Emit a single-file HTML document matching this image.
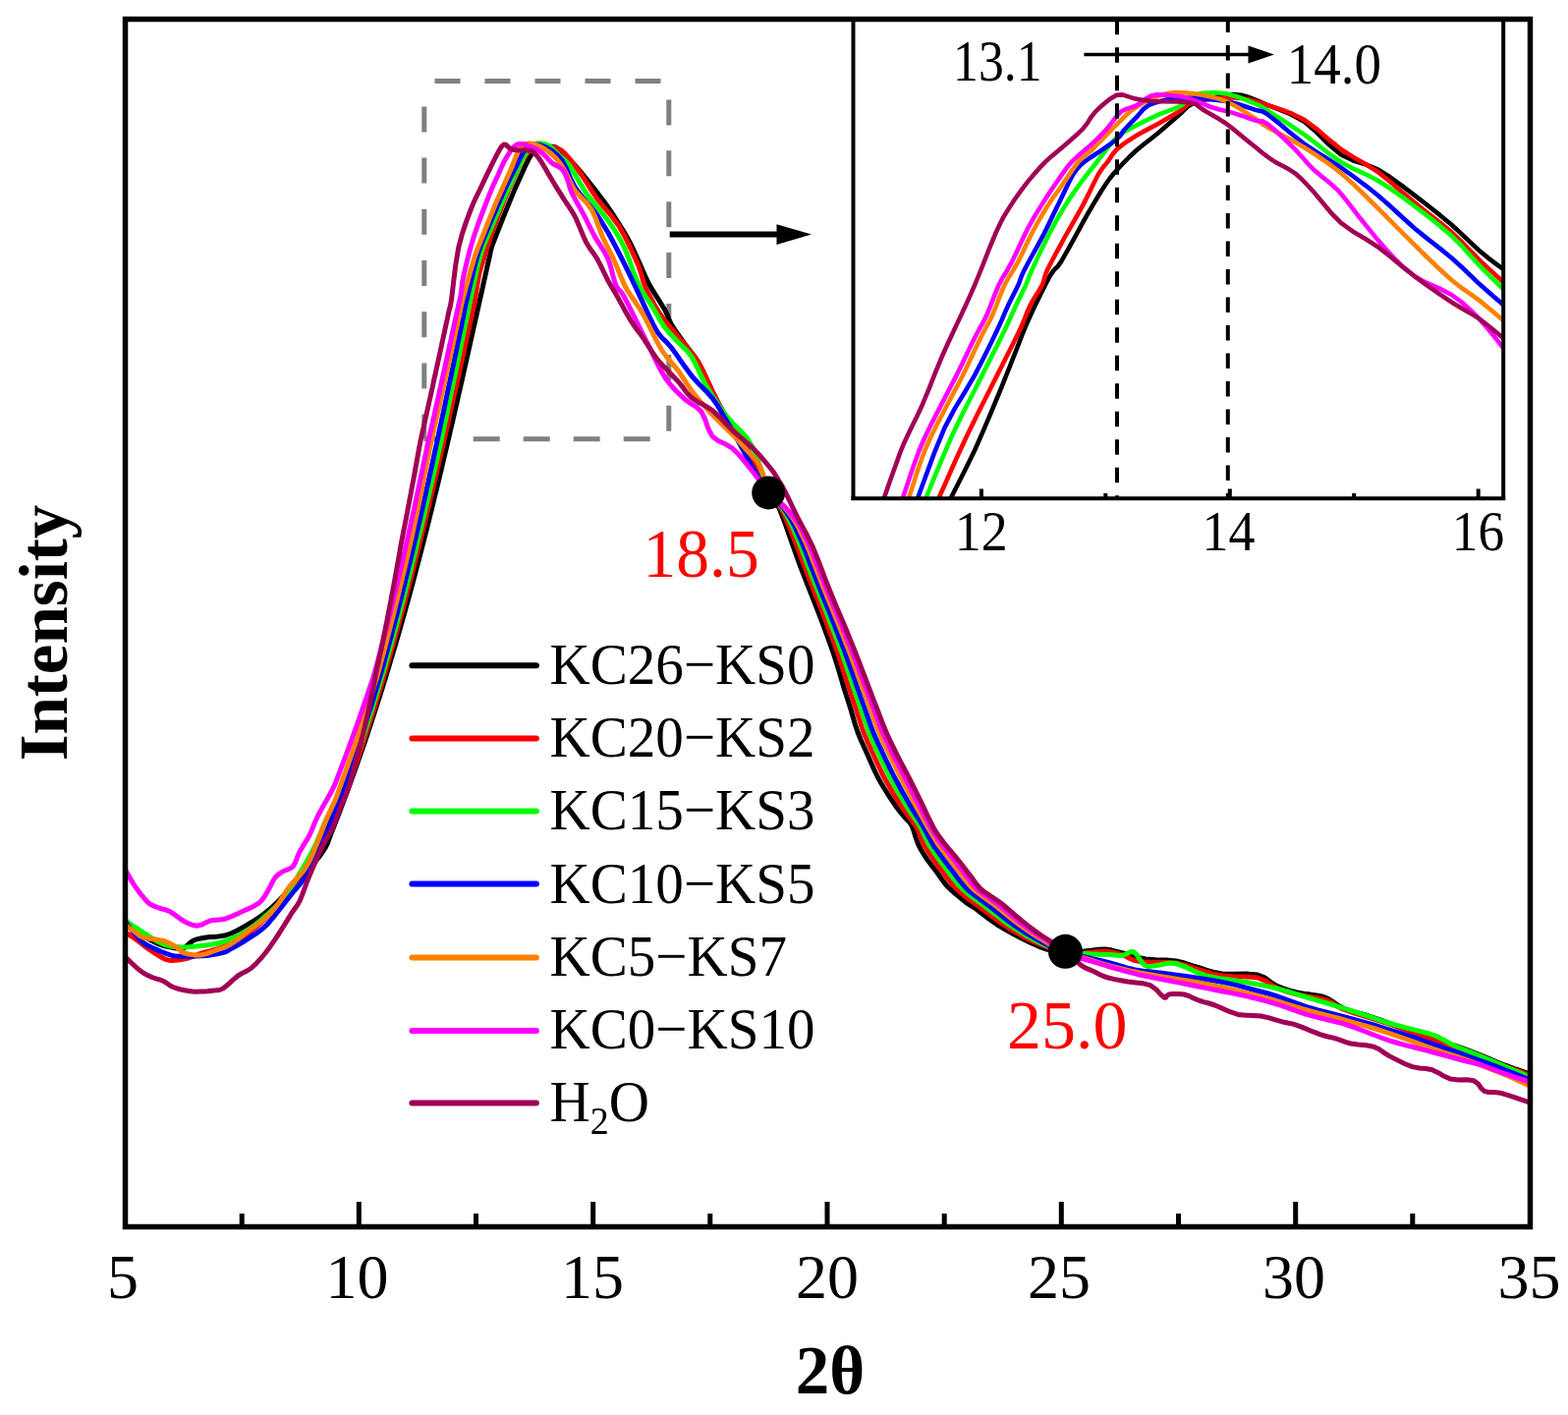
<!DOCTYPE html>
<html><head><meta charset="utf-8"><title>XRD</title>
<style>
html,body{margin:0;padding:0;background:#fff;}
svg{display:block;}
text{font-family:"Liberation Serif","Times New Roman",serif;}
</style></head><body>
<svg width="1596" height="1440" viewBox="0 0 1596 1440">
<rect width="1596" height="1440" fill="#fff"/>
<!-- dashed rect -->
<g stroke="#808080" stroke-width="5" fill="none">
<line x1="431.5" y1="82.6" x2="680.8" y2="82.6" stroke-dasharray="26 25" stroke-dashoffset="40"/>
<line x1="680.8" y1="82.6" x2="680.8" y2="446.8" stroke-dasharray="26 25.9" stroke-dashoffset="33.1"/>
<line x1="680.8" y1="446.8" x2="431.5" y2="446.8" stroke-dasharray="27 24" stroke-dashoffset="31.9"/>
<line x1="431.8" y1="446.8" x2="431.8" y2="82.6" stroke-dasharray="26 26.2" stroke-dashoffset="0.8"/>
</g>
<g fill="none" stroke-width="5" stroke-linejoin="round" stroke-linecap="round">
<path d="M127.5,940.0L129.8,941.4L133.2,943.6L137.0,946.0L141.0,948.9L145.4,952.0L150.0,955.0L154.9,957.6L159.9,960.0L165.0,962.0L170.3,963.4L175.6,964.4L180.0,965.0L182.8,965.5L184.7,965.7L187.0,965.0L190.0,962.7L193.3,959.6L197.0,957.0L201.1,955.6L205.6,954.7L210.0,954.0L214.0,953.6L218.0,953.4L222.0,953.0L225.9,952.5L230.0,951.7L235.0,950.0L241.8,946.7L249.6,942.4L257.0,938.0L263.4,933.8L269.4,929.5L275.0,925.0L280.2,920.2L285.1,915.2L290.0,910.0L295.0,904.4L300.0,898.6L305.0,893.0L310.1,887.9L315.3,883.0L320.0,878.0L324.4,872.5L328.4,866.9L331.6,862.0L333.5,858.2L334.5,855.1L335.6,852.0L336.9,848.7L338.2,845.3L339.5,842.0L340.8,838.7L342.1,835.3L343.4,832.0L344.7,828.7L346.0,825.3L347.2,822.0L348.5,818.7L349.7,815.3L351.0,812.0L352.2,808.7L353.5,805.3L354.7,802.0L355.9,798.7L357.1,795.3L358.3,792.0L359.5,788.7L360.7,785.3L361.9,782.0L363.1,778.7L364.2,775.3L365.4,772.0L366.6,768.7L367.7,765.3L368.9,762.0L370.0,758.7L371.2,755.3L372.3,752.0L373.4,748.7L374.5,745.3L375.6,742.0L376.8,738.7L377.9,735.3L378.9,732.0L380.0,728.7L381.1,725.3L382.2,722.0L383.3,718.7L384.3,715.3L385.4,712.0L386.5,708.7L387.5,705.3L388.6,702.0L389.6,698.7L390.6,695.3L391.7,692.0L392.7,688.7L393.7,685.3L394.7,682.0L395.7,678.7L396.7,675.3L397.7,672.0L398.7,668.7L399.7,665.3L400.7,662.0L401.7,658.7L402.7,655.3L403.6,652.0L404.6,648.7L405.6,645.3L406.5,642.0L407.5,638.7L408.4,635.3L409.4,632.0L410.3,628.7L411.3,625.3L412.2,622.0L413.1,618.7L414.0,615.3L415.0,612.0L415.9,608.7L416.8,605.3L417.7,602.0L418.6,598.7L419.5,595.3L420.4,592.0L421.3,588.7L422.2,585.3L423.1,582.0L423.9,578.7L424.8,575.3L425.7,572.0L426.6,568.7L427.4,565.3L428.3,562.0L429.2,558.7L430.0,555.3L430.9,552.0L431.7,548.7L432.6,545.3L433.4,542.0L434.3,538.7L435.1,535.3L435.9,532.0L436.8,528.7L437.6,525.3L438.4,522.0L439.3,518.7L440.1,515.3L440.9,512.0L441.7,508.7L442.5,505.3L443.3,502.0L444.2,498.7L445.0,495.3L445.8,492.0L446.6,488.7L447.4,485.3L448.2,482.0L449.0,478.7L449.8,475.3L450.5,472.0L451.3,468.7L452.1,465.3L452.9,462.0L453.7,458.7L454.5,455.3L455.2,452.0L456.0,448.7L456.8,445.3L457.6,442.0L458.3,438.7L459.1,435.3L459.9,432.0L460.7,428.7L461.4,425.3L462.2,422.0L462.9,418.7L463.7,415.3L464.5,412.0L465.2,408.7L466.0,405.3L466.7,402.0L467.5,398.7L468.3,395.3L469.0,392.0L469.8,388.7L470.5,385.3L471.3,382.0L472.0,378.7L472.8,375.3L473.5,372.0L474.3,368.7L475.0,365.3L475.7,362.0L476.5,358.7L477.2,355.3L478.0,352.0L478.7,348.7L479.5,345.3L480.2,342.0L481.0,338.7L481.7,335.3L482.4,332.0L483.2,328.7L483.9,325.3L484.7,322.0L485.4,318.7L486.2,315.3L486.9,312.0L487.6,308.7L488.4,305.3L489.1,302.0L489.9,298.7L490.6,295.3L491.4,292.0L492.1,288.7L492.8,285.3L493.6,282.0L494.3,278.7L495.1,275.3L495.8,272.0L496.6,268.7L497.3,265.3L498.1,262.0L498.8,258.7L499.4,255.4L500.3,252.0L501.1,249.4L502.1,246.8L504.4,241.0L508.9,229.6L514.7,215.0L520.0,202.0L524.0,192.4L527.6,184.4L531.0,177.0L534.4,169.5L537.8,162.6L541.0,157.0L544.0,153.1L547.0,150.6L550.0,149.0L553.3,148.3L556.7,148.5L560.0,149.0L562.8,149.3L565.5,149.9L569.0,152.0L573.9,156.3L579.5,162.0L585.0,168.0L590.0,173.7L594.9,179.6L600.0,186.0L605.6,193.1L611.3,200.5L616.7,207.8L621.5,214.6L625.9,221.3L630.0,227.8L633.9,234.1L637.6,240.3L641.1,246.7L644.5,253.6L647.7,260.8L651.0,268.0L654.2,275.2L657.3,282.4L661.1,290.0L666.1,298.4L671.7,307.1L676.4,314.7L679.1,320.3L680.8,324.9L683.3,330.0L687.4,336.4L692.2,343.2L697.0,350.0L701.6,356.0L706.3,362.0L711.0,369.0L715.8,378.2L720.6,388.6L725.0,398.0L728.8,405.6L732.2,412.3L736.0,419.0L740.4,425.9L745.1,432.7L750.0,440.0L754.9,447.7L759.8,455.8L765.0,465.0L770.7,476.6L776.7,489.2L782.0,500.0L785.9,505.9L789.3,510.0L793.5,518.0L799.5,533.6L806.3,553.3L813.0,572.0L819.1,587.9L825.1,603.0L831.0,618.0L837.0,633.7L842.8,649.4L848.0,664.0L852.3,677.3L855.9,689.4L859.0,700.0L861.6,708.3L863.8,715.1L866.0,722.0L868.2,729.6L870.4,737.3L873.0,745.0L876.1,752.7L879.6,760.4L883.0,768.0L886.3,775.6L889.7,783.1L893.0,790.0L896.3,796.1L899.7,801.7L903.0,807.0L906.4,812.3L909.8,817.4L913.0,822.0L915.9,825.8L918.5,829.0L921.0,832.0L923.4,834.4L925.7,836.6L928.0,840.0L930.1,845.6L932.1,852.5L934.5,859.0L937.4,864.7L940.7,870.0L944.0,875.0L947.2,879.4L950.4,883.5L953.5,887.5L956.5,891.8L959.5,896.1L962.5,900.0L965.5,903.2L968.6,906.1L972.0,909.0L975.9,912.4L980.1,915.9L984.0,919.0L986.9,920.9L989.5,922.4L993.5,925.0L999.6,929.7L1007.1,935.4L1015.0,941.0L1023.1,945.9L1031.5,950.6L1040.0,955.0L1048.6,959.2L1057.1,963.1L1065.0,966.0L1071.8,967.4L1077.9,967.8L1084.0,968.0L1090.4,968.2L1096.8,968.2L1103.5,968.0L1110.6,967.3L1118.0,966.3L1125.0,966.0L1131.1,966.8L1136.8,968.3L1143.0,970.0L1150.0,972.0L1157.6,974.2L1166.0,976.0L1176.0,976.8L1186.9,977.1L1197.0,978.0L1205.6,980.0L1213.3,982.6L1221.0,985.0L1228.3,987.3L1235.4,989.4L1244.0,991.0L1255.7,991.3L1268.8,991.1L1280.0,992.0L1287.5,995.1L1293.1,999.3L1299.0,1003.0L1305.9,1005.8L1313.0,1008.1L1320.0,1010.0L1327.1,1011.3L1334.0,1012.1L1340.0,1013.0L1344.1,1013.7L1347.3,1014.5L1351.0,1016.0L1355.7,1018.9L1361.0,1022.6L1367.0,1026.0L1374.2,1028.6L1382.2,1030.8L1390.0,1033.0L1397.1,1035.3L1404.1,1037.6L1411.0,1040.0L1418.0,1042.6L1425.0,1045.3L1432.0,1048.0L1438.9,1050.7L1445.8,1053.4L1453.0,1056.0L1460.8,1058.4L1469.0,1060.6L1477.0,1063.0L1484.7,1065.5L1492.3,1068.1L1500.0,1071.0L1508.2,1074.3L1516.6,1077.9L1524.0,1081.0L1529.9,1083.3L1534.9,1085.1L1540.0,1087.0L1546.2,1089.2L1552.6,1091.4L1557.0,1093.0" stroke="#000000"/>
<path d="M127.5,949.0L129.8,950.4L133.2,952.5L137.0,955.0L141.1,958.1L145.5,961.6L150.0,965.0L154.4,968.0L158.8,970.9L162.9,973.3L166.3,975.2L169.4,976.6L173.3,977.4L178.6,977.3L184.7,976.5L190.5,975.3L195.5,973.7L200.2,971.8L205.0,970.0L209.8,968.7L214.6,967.6L220.0,966.0L226.3,963.9L233.1,961.3L240.0,958.0L246.7,954.0L253.3,949.3L260.0,944.0L266.7,938.3L273.3,932.0L280.0,925.0L286.8,917.1L293.5,908.6L300.0,900.0L306.4,891.4L312.4,882.7L317.5,875.0L320.8,869.2L323.1,864.4L325.8,858.3L329.6,849.2L333.9,838.9L338.0,830.0L342.0,823.8L345.8,819.1L348.9,815.0L350.6,811.3L351.6,808.1L352.6,805.0L353.8,801.7L355.0,798.3L356.2,795.0L357.4,791.7L358.6,788.3L359.8,785.0L360.9,781.7L362.1,778.3L363.2,775.0L364.4,771.7L365.5,768.3L366.6,765.0L367.7,761.7L368.8,758.3L369.9,755.0L371.0,751.7L372.1,748.3L373.2,745.0L374.3,741.7L375.4,738.3L376.4,735.0L377.5,731.7L378.6,728.3L379.6,725.0L380.7,721.7L381.7,718.3L382.7,715.0L383.8,711.7L384.8,708.3L385.8,705.0L386.8,701.7L387.8,698.3L388.8,695.0L389.8,691.7L390.8,688.3L391.8,685.0L392.8,681.7L393.8,678.3L394.7,675.0L395.7,671.7L396.6,668.3L397.6,665.0L398.5,661.7L399.5,658.3L400.4,655.0L401.4,651.7L402.3,648.3L403.2,645.0L404.1,641.7L405.1,638.3L406.0,635.0L406.9,631.7L407.8,628.3L408.7,625.0L409.6,621.7L410.5,618.3L411.4,615.0L412.2,611.7L413.1,608.3L414.0,605.0L414.9,601.7L415.7,598.3L416.6,595.0L417.4,591.7L418.3,588.3L419.2,585.0L420.0,581.7L420.8,578.3L421.7,575.0L422.5,571.7L423.4,568.3L424.2,565.0L425.0,561.7L425.8,558.3L426.7,555.0L427.5,551.7L428.3,548.3L429.1,545.0L430.0,541.7L430.8,538.3L431.6,535.0L432.4,531.7L433.2,528.3L434.0,525.0L434.8,521.7L435.6,518.3L436.4,515.0L437.2,511.7L438.0,508.3L438.8,505.0L439.6,501.7L440.4,498.3L441.2,495.0L441.9,491.7L442.7,488.3L443.5,485.0L444.3,481.7L445.0,478.3L445.8,475.0L446.6,471.7L447.3,468.3L448.1,465.0L448.9,461.7L449.6,458.3L450.4,455.0L451.1,451.7L451.9,448.3L452.7,445.0L453.4,441.7L454.2,438.3L454.9,435.0L455.7,431.7L456.4,428.3L457.2,425.0L457.9,421.7L458.7,418.3L459.4,415.0L460.2,411.7L460.9,408.3L461.6,405.0L462.4,401.7L463.1,398.3L463.9,395.0L464.6,391.7L465.3,388.3L466.1,385.0L466.8,381.7L467.5,378.3L468.3,375.0L469.0,371.7L469.7,368.3L470.5,365.0L471.2,361.7L471.9,358.3L472.6,355.0L473.4,351.7L474.1,348.3L474.8,345.0L475.5,341.7L476.3,338.3L477.0,335.0L477.7,331.7L478.5,328.3L479.2,325.0L479.9,321.7L480.6,318.3L481.4,315.0L482.0,312.2L482.7,309.4L483.5,305.0L484.6,297.6L486.0,288.5L487.5,280.0L489.3,272.9L491.4,266.4L493.5,260.0L495.2,254.3L496.9,248.8L499.5,241.0L503.8,229.0L509.1,214.7L514.0,202.0L518.0,192.4L521.5,184.4L525.0,177.0L528.4,169.8L531.7,163.3L535.0,158.0L538.3,154.3L541.6,151.7L545.0,150.0L548.6,149.0L552.4,148.9L556.0,149.0L559.5,149.3L562.8,150.0L566.0,151.0L568.6,151.7L571.0,152.7L574.4,155.6L579.4,161.2L585.2,168.7L591.1,176.7L596.5,184.8L601.8,193.4L607.8,202.2L615.0,211.1L622.8,220.2L630.0,230.0L636.4,241.3L642.1,253.2L646.7,263.3L649.7,270.3L651.5,275.5L653.0,280.0L654.0,283.5L654.6,286.2L656.0,290.0L658.8,296.1L662.4,303.3L666.0,310.0L669.2,315.4L672.4,320.3L676.4,325.8L681.8,332.4L687.9,339.7L694.0,347.0L699.8,354.0L705.6,361.0L711.0,368.9L716.0,378.4L720.7,388.6L725.0,398.0L728.8,405.5L732.2,412.1L736.0,418.9L740.4,426.0L745.1,433.2L750.0,441.0L755.2,449.5L760.6,458.4L766.0,468.0L771.7,479.1L777.4,490.9L782.0,500.0L784.9,504.7L786.8,506.9L788.7,509.0L791.0,512.0L793.2,515.0L795.2,518.0L796.8,521.0L798.2,524.0L799.5,527.0L800.8,530.0L802.1,533.0L803.3,536.0L804.5,539.0L805.7,542.0L806.9,545.0L808.0,548.0L809.2,551.0L810.4,554.0L811.5,557.0L812.6,560.0L813.7,563.0L814.8,566.0L815.9,569.0L817.1,572.0L818.2,575.0L819.4,578.0L820.6,581.0L821.7,584.0L822.9,587.0L824.1,590.0L825.3,593.0L826.4,596.0L827.6,599.0L828.8,602.0L830.0,605.0L831.2,608.0L832.4,611.0L833.6,614.0L834.8,617.0L835.9,620.0L837.0,623.0L838.2,626.0L839.3,629.0L840.5,632.0L841.6,635.0L842.7,638.0L843.9,641.0L845.0,644.0L846.1,647.0L847.3,650.0L848.4,653.0L849.5,656.0L850.7,659.0L851.8,662.0L852.8,665.0L853.8,668.0L854.8,671.0L855.8,674.0L856.7,677.0L857.7,680.0L858.6,683.0L859.6,686.0L860.6,689.0L861.5,692.0L862.5,695.0L863.5,698.0L864.4,701.0L865.4,704.0L866.4,707.0L867.4,710.0L868.4,713.0L869.4,716.0L870.4,719.0L871.4,722.0L872.4,725.0L873.3,728.0L874.3,731.0L875.3,734.0L876.2,737.0L877.1,740.0L878.2,743.0L879.3,746.0L880.6,749.0L881.9,752.0L883.2,755.0L884.6,758.0L885.9,761.0L887.2,764.0L888.6,767.0L889.9,770.0L891.3,773.0L892.7,776.0L894.1,779.0L895.5,782.0L896.9,785.0L898.3,788.0L899.9,791.0L901.6,794.0L903.3,797.0L905.0,800.0L906.7,803.0L908.4,806.0L910.3,809.0L912.1,812.0L914.1,815.0L916.0,818.0L917.9,821.0L919.9,824.0L922.1,827.0L924.4,830.0L926.6,833.0L928.9,836.0L931.1,839.0L932.9,842.0L934.4,845.0L935.5,848.0L936.6,851.0L937.9,854.0L939.1,857.0L940.6,860.0L942.4,863.0L944.4,866.0L946.4,869.0L948.4,872.0L950.4,875.0L952.5,878.0L954.8,881.0L957.1,884.0L959.4,887.0L961.5,890.0L963.7,893.0L966.0,896.0L968.4,899.0L971.1,902.0L974.0,905.0L977.3,908.0L980.9,911.0L984.7,914.0L988.7,917.0L992.8,920.0L997.0,923.0L1001.0,926.0L1005.1,929.0L1009.1,932.0L1013.0,935.0L1016.9,938.0L1021.1,941.0L1025.8,944.0L1031.0,947.0L1036.3,950.0L1041.4,953.0L1046.7,955.9L1053.5,959.0L1063.1,962.6L1074.2,966.3L1084.0,969.0L1091.2,970.1L1097.3,970.2L1103.5,970.0L1110.6,969.3L1118.0,968.3L1125.0,968.0L1131.5,968.9L1137.7,970.4L1143.0,972.0L1147.0,973.7L1150.2,975.5L1153.6,977.0L1156.9,977.9L1160.4,978.5L1166.0,979.0L1175.2,979.2L1186.5,979.3L1197.0,980.0L1205.6,981.9L1213.3,984.5L1221.0,987.0L1228.3,989.2L1235.4,991.3L1244.0,993.0L1255.7,993.7L1268.8,993.9L1280.0,995.0L1287.5,997.9L1293.1,1001.6L1299.0,1005.0L1305.5,1007.6L1312.2,1009.9L1320.0,1012.0L1330.1,1014.0L1341.4,1015.8L1351.0,1018.0L1356.4,1020.6L1360.1,1023.5L1367.0,1027.0L1379.7,1031.3L1395.4,1036.1L1411.0,1041.0L1425.0,1045.9L1438.7,1050.9L1453.0,1056.0L1469.1,1061.5L1485.9,1067.1L1500.0,1072.0L1509.4,1075.7L1516.2,1078.7L1524.0,1082.0L1535.6,1086.3L1548.1,1090.8L1557.0,1094.0" stroke="#ff0000"/>
<path d="M127.5,936.0L129.0,937.3L131.2,939.2L133.3,940.9L135.0,942.0L136.6,943.0L138.8,944.3L141.6,946.2L145.0,948.6L149.1,951.2L154.3,954.5L160.3,958.1L166.4,961.0L172.3,962.7L178.4,963.6L185.0,964.0L192.4,963.8L200.2,963.1L207.8,962.2L214.8,961.2L221.5,960.0L228.4,958.1L235.5,955.4L242.8,952.1L250.0,948.0L257.4,942.9L264.7,937.1L271.7,931.0L278.0,925.2L284.0,919.2L290.0,912.0L296.5,902.6L303.1,892.0L309.0,882.0L313.8,873.7L318.0,866.1L322.0,858.0L326.0,848.6L329.9,838.7L334.0,830.0L338.9,823.0L344.0,817.0L348.0,812.0L350.0,808.1L350.8,805.0L351.7,802.0L352.9,798.7L354.1,795.3L355.3,792.0L356.5,788.7L357.7,785.3L358.8,782.0L360.0,778.7L361.1,775.3L362.2,772.0L363.4,768.7L364.5,765.3L365.6,762.0L366.7,758.7L367.8,755.3L368.9,752.0L370.0,748.7L371.1,745.3L372.2,742.0L373.3,738.7L374.3,735.3L375.4,732.0L376.4,728.7L377.5,725.3L378.5,722.0L379.6,718.7L380.6,715.3L381.7,712.0L382.7,708.7L383.7,705.3L384.7,702.0L385.7,698.7L386.7,695.3L387.7,692.0L388.7,688.7L389.7,685.3L390.7,682.0L391.6,678.7L392.6,675.3L393.5,672.0L394.5,668.7L395.4,665.3L396.4,662.0L397.3,658.7L398.2,655.3L399.1,652.0L400.1,648.7L401.0,645.3L401.9,642.0L402.8,638.7L403.7,635.3L404.6,632.0L405.5,628.7L406.4,625.3L407.2,622.0L408.1,618.7L409.0,615.3L409.9,612.0L410.7,608.7L411.6,605.3L412.5,602.0L413.3,598.7L414.2,595.3L415.0,592.0L415.9,588.7L416.7,585.3L417.5,582.0L418.4,578.7L419.2,575.3L420.0,572.0L420.8,568.7L421.7,565.3L422.5,562.0L423.3,558.7L424.1,555.3L424.9,552.0L425.7,548.7L426.5,545.3L427.3,542.0L428.2,538.7L429.0,535.3L429.8,532.0L430.6,528.7L431.4,525.3L432.2,522.0L432.9,518.7L433.7,515.3L434.5,512.0L435.3,508.7L436.1,505.3L436.9,502.0L437.6,498.7L438.4,495.3L439.2,492.0L440.0,488.7L440.7,485.3L441.5,482.0L442.2,478.7L443.0,475.3L443.8,472.0L444.5,468.7L445.3,465.3L446.0,462.0L446.8,458.7L447.5,455.3L448.3,452.0L449.0,448.7L449.7,445.3L450.4,442.0L451.1,438.7L451.8,435.3L452.5,432.0L453.3,428.7L454.0,425.3L454.7,422.0L455.4,418.7L456.1,415.3L456.8,412.0L457.5,408.7L458.1,405.3L458.8,402.0L459.5,398.7L460.2,395.3L460.9,392.0L461.6,388.7L462.3,385.3L463.0,382.0L463.7,378.7L464.4,375.3L465.0,372.0L465.7,368.7L466.4,365.3L467.1,362.0L467.8,358.7L468.5,355.3L469.1,352.0L469.8,348.7L470.5,345.3L471.2,342.0L471.9,338.7L472.6,335.3L473.2,332.0L473.9,328.7L474.6,325.3L475.3,322.0L476.0,318.7L476.6,315.3L477.3,312.0L477.7,309.9L478.1,307.7L479.4,302.0L482.0,289.9L485.4,274.1L489.0,260.0L492.5,249.6L496.2,240.8L500.0,232.0L504.0,222.4L508.1,212.9L512.0,204.0L515.5,196.1L518.8,188.8L522.0,182.0L525.1,175.5L528.2,169.4L531.0,164.0L533.4,159.3L535.7,155.3L538.0,152.0L540.5,149.3L543.0,147.2L546.0,146.0L549.7,145.7L553.8,146.4L557.8,147.8L561.3,150.2L564.5,153.5L568.0,157.0L571.7,160.2L575.6,163.7L580.0,168.9L585.0,177.0L590.6,186.9L596.7,196.7L603.9,205.9L611.7,215.2L618.9,224.4L625.0,233.3L630.4,242.2L635.6,252.2L640.6,264.6L645.3,278.2L650.0,290.0L654.8,298.5L659.5,305.3L664.0,312.0L668.2,319.2L672.2,326.3L676.4,332.8L680.8,338.3L685.4,343.1L690.0,348.0L694.7,352.6L699.5,357.3L704.2,363.3L708.6,371.5L712.9,381.0L718.0,391.0L724.4,401.7L731.6,412.8L738.9,423.0L746.6,431.5L754.4,439.1L761.0,446.7L765.5,454.2L768.8,461.8L772.0,470.0L775.5,480.3L778.9,491.3L782.0,500.0L784.7,504.6L787.2,506.8L789.6,509.0L792.1,512.0L794.6,515.0L796.8,518.0L798.8,521.0L800.5,524.0L802.1,527.0L803.7,530.0L805.1,533.0L806.5,536.0L807.8,539.0L809.0,542.0L810.3,545.0L811.6,548.0L812.9,551.0L814.1,554.0L815.3,557.0L816.4,560.0L817.5,563.0L818.7,566.0L819.8,569.0L820.9,572.0L822.1,575.0L823.2,578.0L824.4,581.0L825.6,584.0L826.8,587.0L827.9,590.0L829.1,593.0L830.3,596.0L831.5,599.0L832.7,602.0L833.9,605.0L835.1,608.0L836.3,611.0L837.5,614.0L838.7,617.0L839.9,620.0L841.0,623.0L842.2,626.0L843.4,629.0L844.5,632.0L845.7,635.0L846.9,638.0L848.0,641.0L849.2,644.0L850.3,647.0L851.5,650.0L852.6,653.0L853.8,656.0L854.9,659.0L856.1,662.0L857.1,665.0L858.2,668.0L859.2,671.0L860.2,674.0L861.2,677.0L862.2,680.0L863.2,683.0L864.2,686.0L865.3,689.0L866.3,692.0L867.3,695.0L868.3,698.0L869.3,701.0L870.3,704.0L871.4,707.0L872.4,710.0L873.4,713.0L874.5,716.0L875.5,719.0L876.5,722.0L877.5,725.0L878.6,728.0L879.6,731.0L880.6,734.0L881.6,737.0L882.6,740.0L883.6,743.0L884.8,746.0L886.1,749.0L887.5,752.0L888.8,755.0L890.2,758.0L891.5,761.0L892.9,764.0L894.3,767.0L895.7,770.0L897.1,773.0L898.5,776.0L900.0,779.0L901.4,782.0L902.8,785.0L904.3,788.0L905.9,791.0L907.5,794.0L909.1,797.0L910.8,800.0L912.4,803.0L914.1,806.0L915.9,809.0L917.7,812.0L919.5,815.0L921.3,818.0L923.1,821.0L925.0,824.0L927.0,827.0L929.1,830.0L931.2,833.0L933.2,836.0L935.2,839.0L937.0,842.0L938.5,845.0L939.9,848.0L941.3,851.0L942.7,854.0L944.2,857.0L945.8,860.0L947.8,863.0L949.9,866.0L952.0,869.0L954.1,872.0L956.2,875.0L958.4,878.0L960.7,881.0L963.0,884.0L965.3,887.0L967.5,890.0L969.7,893.0L972.0,896.0L974.4,899.0L977.0,902.0L979.9,905.0L983.3,908.0L987.1,911.0L991.0,914.0L995.1,917.0L999.2,920.0L1003.3,923.0L1007.2,926.0L1011.2,929.0L1015.1,932.0L1018.9,935.0L1022.7,938.0L1026.8,941.0L1031.4,944.0L1036.2,947.0L1041.3,950.0L1046.3,953.0L1051.4,955.9L1057.7,959.0L1066.0,962.6L1075.4,966.3L1084.0,969.0L1090.7,970.1L1096.7,970.4L1103.5,970.5L1112.4,970.9L1122.0,971.2L1130.0,971.5L1135.1,972.0L1138.6,972.5L1142.0,972.5L1146.0,971.0L1150.0,968.9L1153.6,968.5L1156.7,971.1L1159.5,975.4L1162.0,979.0L1164.0,981.2L1165.6,982.7L1168.0,983.5L1171.4,983.4L1175.4,982.7L1180.0,982.0L1184.9,981.0L1190.4,980.1L1197.5,980.7L1206.6,984.1L1217.3,989.1L1228.8,993.3L1241.5,995.8L1255.2,997.6L1268.0,999.5L1279.3,1001.6L1289.7,1003.6L1300.0,1006.0L1310.5,1008.9L1320.7,1012.1L1330.0,1015.0L1337.4,1017.1L1343.7,1018.9L1351.0,1021.0L1359.7,1023.6L1369.2,1026.6L1380.0,1030.0L1392.7,1034.2L1406.6,1038.8L1420.0,1043.0L1432.8,1046.4L1445.1,1049.4L1455.0,1052.0L1461.3,1054.2L1465.3,1056.1L1469.0,1058.0L1472.2,1059.8L1475.0,1061.6L1480.0,1064.0L1488.0,1067.3L1498.0,1071.2L1510.0,1076.0L1526.1,1082.8L1544.2,1090.5L1557.0,1096.0" stroke="#00ff00"/>
<path d="M127.5,938.0L130.0,941.2L133.5,945.7L137.0,950.0L139.8,953.4L142.5,956.6L145.7,959.5L149.9,962.0L154.7,964.3L159.5,966.4L164.2,968.5L169.0,970.4L173.3,971.9L176.8,972.7L179.8,973.1L183.6,973.3L188.7,973.4L194.4,973.2L200.0,973.0L205.1,972.8L209.9,972.4L214.7,971.9L219.6,971.1L224.4,970.1L228.4,969.1L230.8,968.2L232.4,967.2L235.0,965.7L239.3,963.3L244.5,960.3L250.0,957.0L255.9,953.2L262.1,949.1L267.5,945.0L271.3,941.5L274.4,938.0L278.3,933.3L284.2,926.0L290.8,917.5L296.7,910.0L300.9,905.0L304.2,901.2L307.5,896.7L311.0,890.9L314.5,884.5L318.0,878.0L321.5,871.8L324.9,865.4L328.3,858.3L331.7,849.7L335.0,840.3L338.0,832.0L340.7,825.4L343.2,819.8L345.2,815.0L346.7,811.1L347.7,808.1L348.8,805.0L350.0,801.7L351.1,798.3L352.3,795.0L353.5,791.7L354.6,788.3L355.8,785.0L356.9,781.7L358.1,778.3L359.2,775.0L360.4,771.7L361.5,768.3L362.6,765.0L363.7,761.7L364.8,758.3L365.9,755.0L367.0,751.7L368.1,748.3L369.2,745.0L370.3,741.7L371.4,738.3L372.4,735.0L373.5,731.7L374.6,728.3L375.6,725.0L376.7,721.7L377.7,718.3L378.7,715.0L379.8,711.7L380.8,708.3L381.8,705.0L382.8,701.7L383.8,698.3L384.8,695.0L385.8,691.7L386.8,688.3L387.8,685.0L388.7,681.7L389.7,678.3L390.6,675.0L391.5,671.7L392.4,668.3L393.4,665.0L394.3,661.7L395.2,658.3L396.1,655.0L397.0,651.7L397.9,648.3L398.8,645.0L399.6,641.7L400.5,638.3L401.4,635.0L402.3,631.7L403.1,628.3L404.0,625.0L404.9,621.7L405.7,618.3L406.6,615.0L407.4,611.7L408.3,608.3L409.1,605.0L409.9,601.7L410.8,598.3L411.6,595.0L412.4,591.7L413.2,588.3L414.0,585.0L414.9,581.7L415.7,578.3L416.5,575.0L417.3,571.7L418.1,568.3L418.9,565.0L419.6,561.7L420.4,558.3L421.2,555.0L422.0,551.7L422.8,548.3L423.6,545.0L424.3,541.7L425.1,538.3L425.9,535.0L426.7,531.7L427.4,528.3L428.2,525.0L429.0,521.7L429.7,518.3L430.5,515.0L431.2,511.7L432.0,508.3L432.7,505.0L433.5,501.7L434.2,498.3L434.9,495.0L435.7,491.7L436.4,488.3L437.1,485.0L437.9,481.7L438.6,478.3L439.3,475.0L440.1,471.7L440.8,468.3L441.5,465.0L442.2,461.7L442.9,458.3L443.6,455.0L444.4,451.7L445.1,448.3L445.8,445.0L446.5,441.7L447.2,438.3L447.9,435.0L448.7,431.7L449.4,428.3L450.1,425.0L450.8,421.7L451.5,418.3L452.2,415.0L452.9,411.7L453.6,408.3L454.3,405.0L455.0,401.7L455.7,398.3L456.4,395.0L457.1,391.7L457.8,388.3L458.5,385.0L459.2,381.7L459.9,378.3L460.6,375.0L461.3,371.7L462.0,368.3L462.7,365.0L463.4,361.7L464.1,358.3L464.8,355.0L465.5,351.7L466.1,348.3L466.8,345.0L467.5,341.7L468.2,338.3L468.9,335.0L469.6,331.7L470.3,328.3L471.0,325.0L471.7,321.7L472.3,318.3L473.0,315.0L473.4,313.0L473.8,310.9L475.1,305.0L478.1,291.9L482.1,274.9L486.0,260.0L489.4,249.9L492.6,242.0L496.0,234.0L499.6,225.2L503.4,216.4L507.0,208.0L510.4,200.3L513.7,193.0L517.0,186.0L520.4,178.9L523.9,172.1L527.0,166.0L529.5,160.9L531.7,156.6L534.0,153.0L536.4,150.1L538.9,148.1L542.0,147.0L546.1,147.0L550.9,147.9L556.0,150.0L561.3,153.1L566.9,157.4L572.2,163.3L576.5,171.5L580.6,181.3L585.6,191.1L592.6,200.4L600.5,209.6L607.8,218.9L613.7,228.0L619.1,237.0L624.4,246.7L630.0,257.5L635.7,268.9L641.1,280.0L646.1,290.5L650.9,300.7L655.6,310.6L660.2,320.5L664.8,330.1L669.4,338.3L673.8,343.8L678.1,347.9L683.3,353.6L689.8,362.6L697.0,373.1L704.2,382.8L711.4,390.7L718.6,397.9L725.0,405.0L730.2,412.4L734.6,419.8L738.9,427.2L743.3,434.6L747.5,442.1L752.0,450.0L756.8,458.9L761.7,468.3L766.7,477.2L772.0,485.6L777.4,493.6L782.0,500.0L785.3,504.0L787.8,506.5L790.3,509.0L793.0,512.0L795.6,515.0L798.1,518.0L800.3,521.0L802.3,524.0L804.2,527.0L805.9,530.0L807.5,533.0L809.0,536.0L810.4,539.0L811.7,542.0L813.0,545.0L814.4,548.0L815.7,551.0L817.0,554.0L818.2,557.0L819.4,560.0L820.5,563.0L821.7,566.0L822.8,569.0L823.9,572.0L825.1,575.0L826.3,578.0L827.5,581.0L828.6,584.0L829.8,587.0L831.0,590.0L832.2,593.0L833.3,596.0L834.5,599.0L835.7,602.0L836.9,605.0L838.1,608.0L839.3,611.0L840.6,614.0L841.8,617.0L843.0,620.0L844.2,623.0L845.4,626.0L846.6,629.0L847.8,632.0L849.0,635.0L850.1,638.0L851.3,641.0L852.5,644.0L853.6,647.0L854.8,650.0L856.0,653.0L857.1,656.0L858.3,659.0L859.4,662.0L860.5,665.0L861.6,668.0L862.7,671.0L863.7,674.0L864.8,677.0L865.8,680.0L866.9,683.0L867.9,686.0L868.9,689.0L870.0,692.0L871.0,695.0L872.1,698.0L873.1,701.0L874.2,704.0L875.3,707.0L876.3,710.0L877.4,713.0L878.4,716.0L879.5,719.0L880.6,722.0L881.6,725.0L882.7,728.0L883.7,731.0L884.8,734.0L885.8,737.0L886.8,740.0L888.0,743.0L889.2,746.0L890.5,749.0L891.9,752.0L893.2,755.0L894.6,758.0L896.0,761.0L897.4,764.0L898.8,767.0L900.2,770.0L901.6,773.0L903.1,776.0L904.6,779.0L906.0,782.0L907.5,785.0L909.0,788.0L910.5,791.0L912.1,794.0L913.8,797.0L915.4,800.0L917.0,803.0L918.6,806.0L920.3,809.0L922.1,812.0L923.8,815.0L925.5,818.0L927.3,821.0L929.0,824.0L930.9,827.0L932.8,830.0L934.7,833.0L936.6,836.0L938.4,839.0L940.2,842.0L941.8,845.0L943.4,848.0L945.0,851.0L946.6,854.0L948.2,857.0L950.0,860.0L952.0,863.0L954.3,866.0L956.5,869.0L958.7,872.0L960.9,875.0L963.1,878.0L965.4,881.0L967.7,884.0L970.0,887.0L972.3,890.0L974.4,893.0L976.8,896.0L979.2,899.0L981.7,902.0L984.6,905.0L988.1,908.0L992.0,911.0L996.1,914.0L1000.1,917.0L1004.2,920.0L1008.3,923.0L1012.1,926.0L1015.9,929.0L1019.8,932.0L1023.5,935.0L1027.3,938.0L1031.4,941.0L1035.8,944.0L1040.4,947.0L1045.3,950.0L1050.1,952.9L1055.2,955.9L1061.0,959.0L1068.3,962.8L1076.3,966.8L1084.0,970.0L1090.5,971.7L1096.6,972.5L1103.5,973.7L1111.9,975.6L1121.0,977.8L1130.0,980.0L1138.5,982.4L1146.9,984.9L1155.2,987.0L1163.5,988.3L1171.7,989.1L1180.0,990.0L1188.4,991.1L1196.9,992.2L1205.3,993.3L1213.7,994.5L1222.0,995.7L1230.0,997.0L1237.6,998.3L1244.9,999.6L1252.3,1001.1L1259.8,1002.9L1267.3,1004.9L1275.0,1007.0L1282.7,1009.0L1290.7,1011.0L1299.3,1013.6L1308.9,1017.0L1319.2,1020.9L1330.0,1024.6L1341.4,1027.9L1353.3,1031.0L1365.0,1034.0L1376.2,1037.0L1387.1,1039.9L1398.0,1043.0L1408.8,1046.3L1419.5,1049.6L1430.0,1053.0L1439.8,1056.2L1449.3,1059.4L1460.0,1063.0L1473.0,1067.5L1487.0,1072.4L1500.0,1077.0L1510.9,1080.9L1520.6,1084.4L1530.0,1088.0L1540.2,1092.1L1550.1,1096.1L1557.0,1099.0" stroke="#0000ff"/>
<path d="M127.5,941.0L130.0,942.9L133.5,945.5L137.0,948.0L139.5,950.2L141.9,952.2L145.7,954.0L152.0,955.2L159.6,956.1L166.4,957.4L171.8,959.5L176.4,962.0L180.2,964.3L182.6,966.4L184.3,968.3L187.1,969.8L192.1,971.0L198.2,971.9L204.3,971.9L210.2,970.6L216.1,968.5L221.6,966.4L226.1,964.9L230.2,963.4L235.0,960.8L241.3,956.4L248.3,951.0L255.0,945.8L261.0,941.5L266.6,937.6L271.7,933.3L276.2,928.5L280.3,923.5L284.2,918.3L287.8,912.9L291.2,907.2L295.0,901.7L299.7,896.3L304.8,891.0L309.2,885.8L312.4,880.9L315.0,876.2L317.5,870.8L320.3,864.2L323.1,856.9L325.8,850.0L328.3,843.8L330.6,837.8L333.0,832.0L335.7,826.0L338.5,820.1L340.9,815.0L342.4,811.1L343.5,808.1L344.6,805.0L345.8,801.7L347.0,798.3L348.2,795.0L349.4,791.7L350.6,788.3L351.8,785.0L353.0,781.7L354.2,778.3L355.4,775.0L356.5,771.7L357.7,768.3L358.8,765.0L360.0,761.7L361.1,758.3L362.3,755.0L363.4,751.7L364.5,748.3L365.6,745.0L366.8,741.7L367.9,738.3L369.0,735.0L370.1,731.7L371.1,728.3L372.2,725.0L373.3,721.7L374.4,718.3L375.4,715.0L376.5,711.7L377.6,708.3L378.6,705.0L379.7,701.7L380.7,698.3L381.7,695.0L382.8,691.7L383.8,688.3L384.8,685.0L385.7,681.7L386.6,678.3L387.5,675.0L388.4,671.7L389.3,668.3L390.2,665.0L391.1,661.7L392.0,658.3L392.9,655.0L393.7,651.7L394.6,648.3L395.5,645.0L396.3,641.7L397.2,638.3L398.0,635.0L398.9,631.7L399.7,628.3L400.6,625.0L401.4,621.7L402.2,618.3L403.0,615.0L403.9,611.7L404.7,608.3L405.5,605.0L406.3,601.7L407.1,598.3L407.9,595.0L408.7,591.7L409.5,588.3L410.3,585.0L411.1,581.7L411.9,578.3L412.7,575.0L413.4,571.7L414.2,568.3L415.0,565.0L415.7,561.7L416.5,558.3L417.3,555.0L418.0,551.7L418.7,548.3L419.5,545.0L420.2,541.7L420.9,538.3L421.6,535.0L422.3,531.7L423.0,528.3L423.7,525.0L424.4,521.7L425.1,518.3L425.8,515.0L426.5,511.7L427.1,508.3L427.8,505.0L428.5,501.7L429.2,498.3L429.8,495.0L430.5,491.7L431.2,488.3L431.8,485.0L432.5,481.7L433.2,478.3L433.8,475.0L434.5,471.7L435.1,468.3L435.8,465.0L436.4,461.7L437.1,458.3L437.7,455.0L438.4,451.7L439.1,448.3L439.9,445.0L440.6,441.7L441.4,438.3L442.1,435.0L442.9,431.7L443.6,428.3L444.4,425.0L445.2,421.7L445.9,418.3L446.7,415.0L447.4,411.7L448.1,408.3L448.9,405.0L449.6,401.7L450.4,398.3L451.1,395.0L451.9,391.7L452.6,388.3L453.3,385.0L454.1,381.7L454.8,378.3L455.6,375.0L456.3,371.7L457.0,368.3L457.8,365.0L458.5,361.7L459.2,358.3L460.0,355.0L460.7,351.7L461.4,348.3L462.2,345.0L462.9,341.7L463.6,338.3L464.3,335.0L465.1,331.7L465.8,328.3L466.5,325.0L467.3,321.7L468.0,318.3L468.7,315.0L469.1,312.9L469.5,310.8L470.9,305.0L474.3,292.5L478.8,276.3L483.0,262.0L486.5,252.0L489.7,244.0L493.0,236.0L496.3,227.5L499.7,219.1L503.0,211.0L506.4,203.0L509.8,195.2L513.0,188.0L515.9,181.6L518.5,175.7L521.0,170.0L523.4,163.9L525.7,157.9L528.0,153.0L530.2,149.8L532.4,147.8L535.0,146.5L538.0,145.9L541.3,146.1L545.0,147.0L549.1,148.7L553.6,151.1L558.0,154.0L562.2,157.5L566.3,161.5L570.0,166.0L573.3,171.2L576.3,176.8L579.0,182.0L581.0,186.2L582.7,189.9L585.6,194.4L590.6,199.9L596.7,206.1L602.2,213.3L606.3,222.1L609.8,231.9L613.3,241.1L617.0,248.7L620.7,255.8L624.4,263.3L628.2,272.3L632.0,281.8L635.6,290.0L638.8,295.8L641.8,300.3L645.0,305.0L648.2,309.8L651.5,314.7L655.6,321.7L661.1,332.4L667.4,345.2L673.6,356.4L679.4,364.4L685.0,370.8L690.3,377.2L695.0,384.1L699.4,391.1L704.2,398.0L709.7,404.9L715.6,411.7L722.2,418.9L730.0,426.9L738.4,435.1L745.8,442.5L751.3,448.2L755.7,453.1L760.0,458.0L764.8,463.1L769.5,468.2L773.6,474.4L776.8,482.9L779.3,492.4L782.0,500.0L785.0,504.2L788.2,506.6L791.2,509.0L794.2,512.0L797.1,515.0L799.8,518.0L802.3,521.0L804.7,524.0L806.9,527.0L808.9,530.0L810.7,533.0L812.3,536.0L813.8,539.0L815.2,542.0L816.6,545.0L818.1,548.0L819.5,551.0L820.9,554.0L822.2,557.0L823.4,560.0L824.5,563.0L825.7,566.0L826.8,569.0L828.0,572.0L829.2,575.0L830.3,578.0L831.5,581.0L832.7,584.0L833.9,587.0L835.0,590.0L836.2,593.0L837.4,596.0L838.6,599.0L839.8,602.0L841.0,605.0L842.2,608.0L843.4,611.0L844.7,614.0L845.9,617.0L847.2,620.0L848.4,623.0L849.6,626.0L850.8,629.0L852.1,632.0L853.3,635.0L854.5,638.0L855.7,641.0L856.9,644.0L858.1,647.0L859.2,650.0L860.4,653.0L861.6,656.0L862.8,659.0L863.9,662.0L865.1,665.0L866.2,668.0L867.3,671.0L868.4,674.0L869.5,677.0L870.6,680.0L871.7,683.0L872.8,686.0L873.9,689.0L875.0,692.0L876.1,695.0L877.1,698.0L878.2,701.0L879.3,704.0L880.5,707.0L881.6,710.0L882.7,713.0L883.8,716.0L884.9,719.0L886.0,722.0L887.1,725.0L888.2,728.0L889.3,731.0L890.4,734.0L891.5,737.0L892.6,740.0L893.7,743.0L895.0,746.0L896.4,749.0L897.7,752.0L899.1,755.0L900.5,758.0L901.9,761.0L903.3,764.0L904.8,767.0L906.2,770.0L907.7,773.0L909.2,776.0L910.7,779.0L912.2,782.0L913.7,785.0L915.2,788.0L916.8,791.0L918.3,794.0L919.9,797.0L921.5,800.0L923.1,803.0L924.7,806.0L926.3,809.0L927.9,812.0L929.5,815.0L931.2,818.0L932.8,821.0L934.4,824.0L936.1,827.0L937.8,830.0L939.5,833.0L941.1,836.0L942.8,839.0L944.5,842.0L946.2,845.0L948.0,848.0L949.8,851.0L951.7,854.0L953.5,857.0L955.5,860.0L957.7,863.0L960.1,866.0L962.4,869.0L964.7,872.0L967.0,875.0L969.3,878.0L971.6,881.0L974.0,884.0L976.3,887.0L978.5,890.0L980.8,893.0L983.1,896.0L985.5,899.0L987.9,902.0L990.8,905.0L994.5,908.0L998.6,911.0L1002.7,914.0L1006.8,917.0L1010.9,920.0L1014.9,923.0L1018.7,926.0L1022.3,929.0L1026.0,932.0L1029.7,935.0L1033.5,938.0L1037.4,941.0L1041.6,944.0L1046.0,947.0L1050.5,950.0L1055.2,952.9L1060.1,955.8L1065.5,959.0L1071.3,963.1L1077.6,967.5L1084.0,971.0L1090.2,972.8L1096.4,973.7L1103.5,975.0L1111.7,977.4L1120.6,980.3L1130.0,983.0L1139.7,985.5L1149.9,987.9L1160.0,990.0L1170.0,991.8L1180.0,993.4L1190.0,995.0L1200.2,996.7L1210.4,998.3L1220.0,1000.0L1228.7,1001.6L1236.9,1003.3L1245.0,1005.0L1253.1,1006.9L1261.3,1008.8L1270.0,1011.0L1279.6,1013.5L1289.8,1016.2L1300.0,1019.0L1309.8,1021.9L1319.6,1025.0L1330.0,1028.0L1341.3,1031.0L1353.1,1033.9L1365.0,1037.0L1376.9,1040.3L1388.7,1043.6L1400.0,1047.0L1410.4,1050.3L1420.2,1053.6L1430.0,1057.0L1440.2,1060.7L1450.4,1064.5L1460.0,1068.0L1468.7,1070.9L1476.9,1073.4L1485.0,1076.0L1493.3,1078.9L1501.7,1081.9L1510.0,1085.0L1518.4,1088.3L1526.9,1091.6L1535.0,1095.0L1543.4,1098.7L1551.4,1102.4L1557.0,1105.0" stroke="#ff8000"/>
<path d="M127.8,885.5L128.8,887.4L130.4,890.1L132.0,893.0L133.6,895.9L135.4,898.9L137.4,902.0L139.8,905.3L142.4,908.8L145.0,912.0L147.5,915.0L149.9,917.7L152.6,920.0L155.5,921.6L158.7,922.8L162.0,924.0L165.5,925.1L169.3,926.1L173.3,927.8L177.7,930.7L182.4,934.3L187.1,937.4L191.7,939.7L196.3,941.5L200.9,942.2L205.5,941.0L210.1,938.6L214.7,936.7L219.1,936.2L223.5,936.1L228.4,935.3L234.2,933.2L240.6,930.4L246.7,927.5L252.7,924.9L258.4,922.2L263.3,919.2L266.7,915.9L269.2,912.3L271.7,908.3L274.5,903.3L277.2,897.8L280.0,893.3L282.7,890.4L285.4,888.5L288.3,886.7L291.6,885.3L295.1,884.0L298.3,881.7L300.7,877.5L302.6,872.2L305.0,866.7L308.1,861.4L311.6,855.9L315.0,850.0L317.8,843.8L320.4,837.3L323.7,830.0L328.5,821.2L333.9,811.8L338.3,803.7L340.9,798.1L342.6,793.8L344.0,790.0L345.4,786.4L346.6,783.2L347.8,780.0L349.1,776.7L350.3,773.3L351.6,770.0L352.8,766.7L354.1,763.3L355.3,760.0L356.5,756.7L357.7,753.3L358.9,750.0L360.1,746.7L361.3,743.3L362.5,740.0L363.7,736.7L364.9,733.3L366.0,730.0L367.2,726.7L368.4,723.3L369.5,720.0L370.7,716.7L371.8,713.3L373.0,710.0L374.1,706.7L375.2,703.3L376.3,700.0L377.5,696.7L378.6,693.3L379.7,690.0L380.7,686.7L381.7,683.3L382.6,680.0L383.5,676.7L384.4,673.3L385.3,670.0L386.2,666.7L387.1,663.3L387.9,660.0L388.8,656.7L389.7,653.3L390.5,650.0L391.4,646.7L392.2,643.3L393.1,640.0L393.9,636.7L394.8,633.3L395.6,630.0L396.4,626.7L397.2,623.3L398.1,620.0L398.9,616.7L399.7,613.3L400.5,610.0L401.3,606.7L402.1,603.3L402.9,600.0L403.7,596.7L404.5,593.3L405.3,590.0L406.0,586.7L406.8,583.3L407.6,580.0L408.4,576.7L409.1,573.3L409.9,570.0L410.6,566.7L411.4,563.3L412.2,560.0L412.9,556.7L413.6,553.3L414.4,550.0L415.1,546.7L415.9,543.3L416.6,540.0L417.4,536.7L418.1,533.3L418.8,530.0L419.6,526.7L420.3,523.3L421.0,520.0L421.8,516.7L422.5,513.3L423.2,510.0L423.9,506.7L424.6,503.3L425.3,500.0L426.0,496.7L426.7,493.3L427.4,490.0L428.1,486.7L428.8,483.3L429.5,480.0L430.2,476.7L430.9,473.3L431.6,470.0L432.3,466.7L433.0,463.3L433.7,460.0L434.3,456.7L435.0,453.3L435.7,450.0L436.5,446.7L437.2,443.3L438.0,440.0L438.8,436.7L439.5,433.3L440.3,430.0L441.0,426.7L441.8,423.3L442.5,420.0L443.3,416.7L444.0,413.3L444.8,410.0L445.5,406.7L446.3,403.3L447.0,400.0L447.7,396.7L448.5,393.3L449.2,390.0L450.0,386.7L450.7,383.3L451.4,380.0L452.2,376.7L452.9,373.3L453.6,370.0L454.4,366.7L455.1,363.3L455.8,360.0L456.6,356.7L457.3,353.3L458.0,350.0L458.8,346.7L459.5,343.3L460.2,340.0L460.9,336.7L461.7,333.3L462.4,330.0L463.1,326.7L463.9,323.3L464.6,320.0L465.3,316.7L466.1,313.3L466.8,310.0L467.5,307.0L468.2,304.1L469.0,300.0L469.7,294.8L470.4,288.4L472.0,280.0L474.7,268.6L478.1,255.0L482.2,241.1L487.2,226.5L492.9,211.5L497.8,198.9L501.4,190.2L504.2,184.0L507.0,178.0L509.8,171.6L512.6,165.5L515.6,160.0L519.0,154.6L522.6,149.7L526.7,146.7L531.7,146.5L537.2,148.0L542.2,150.0L546.1,151.8L549.5,154.0L552.7,156.5L555.9,159.6L558.9,163.0L562.0,166.0L565.5,168.1L569.1,169.9L572.2,172.2L574.5,175.5L576.2,179.2L577.8,183.3L579.1,187.3L580.2,191.5L582.2,196.7L585.7,203.4L590.1,211.2L594.4,218.9L598.1,226.3L601.7,233.7L605.6,241.1L610.1,248.3L614.8,255.6L618.9,263.3L621.9,272.5L624.3,282.1L626.7,290.0L629.1,294.1L631.6,296.5L634.7,300.8L638.9,308.8L643.7,318.7L648.6,328.6L653.2,337.8L657.8,347.0L662.5,356.4L667.3,366.3L672.3,376.4L677.8,385.6L684.1,393.5L690.8,400.4L697.2,406.4L703.2,410.7L708.8,414.1L713.9,418.9L717.7,426.8L720.8,436.0L725.0,443.9L731.3,448.7L738.7,452.1L745.8,456.4L752.0,462.6L758.0,469.8L763.9,477.2L770.2,485.2L776.6,493.3L782.0,500.0L785.9,504.0L788.9,506.5L791.8,509.0L794.9,512.0L798.0,515.0L800.9,518.0L803.7,521.0L806.3,524.0L808.7,527.0L810.8,530.0L812.7,533.0L814.5,536.0L816.1,539.0L817.5,542.0L819.0,545.0L820.5,548.0L822.0,551.0L823.4,554.0L824.7,557.0L826.0,560.0L827.1,563.0L828.3,566.0L829.5,569.0L830.6,572.0L831.8,575.0L833.0,578.0L834.1,581.0L835.3,584.0L836.5,587.0L837.7,590.0L838.8,593.0L840.0,596.0L841.2,599.0L842.4,602.0L843.6,605.0L844.9,608.0L846.1,611.0L847.4,614.0L848.6,617.0L849.9,620.0L851.1,623.0L852.4,626.0L853.6,629.0L854.8,632.0L856.1,635.0L857.3,638.0L858.5,641.0L859.7,644.0L860.9,647.0L862.1,650.0L863.3,653.0L864.5,656.0L865.7,659.0L866.9,662.0L868.0,665.0L869.2,668.0L870.4,671.0L871.5,674.0L872.6,677.0L873.7,680.0L874.8,683.0L876.0,686.0L877.1,689.0L878.2,692.0L879.3,695.0L880.4,698.0L881.6,701.0L882.7,704.0L883.8,707.0L885.0,710.0L886.1,713.0L887.2,716.0L888.4,719.0L889.5,722.0L890.6,725.0L891.8,728.0L892.9,731.0L894.1,734.0L895.2,737.0L896.3,740.0L897.5,743.0L898.8,746.0L900.1,749.0L901.5,752.0L902.9,755.0L904.4,758.0L905.8,761.0L907.2,764.0L908.7,767.0L910.1,770.0L911.6,773.0L913.2,776.0L914.7,779.0L916.2,782.0L917.8,785.0L919.3,788.0L920.8,791.0L922.4,794.0L923.9,797.0L925.5,800.0L927.0,803.0L928.6,806.0L930.1,809.0L931.7,812.0L933.3,815.0L934.8,818.0L936.3,821.0L937.9,824.0L939.4,827.0L941.0,830.0L942.6,833.0L944.1,836.0L945.6,839.0L947.2,842.0L949.1,845.0L951.0,848.0L953.0,851.0L955.0,854.0L957.0,857.0L959.1,860.0L961.4,863.0L963.9,866.0L966.3,869.0L968.7,872.0L971.0,875.0L973.4,878.0L975.7,881.0L978.0,884.0L980.4,887.0L982.6,890.0L984.9,893.0L987.2,896.0L989.5,899.0L991.9,902.0L994.8,905.0L998.6,908.0L1002.8,911.0L1007.1,914.0L1011.2,917.0L1015.3,920.0L1019.2,923.0L1022.9,926.0L1026.5,929.0L1030.1,932.0L1033.8,935.0L1037.5,938.0L1041.4,941.0L1045.4,944.0L1049.6,947.0L1053.9,950.0L1058.5,952.9L1063.4,955.7L1068.3,959.0L1073.3,963.4L1078.4,968.2L1084.0,972.0L1090.0,973.9L1096.3,974.7L1103.5,976.0L1111.7,978.4L1120.8,981.2L1130.0,984.0L1139.2,986.6L1148.5,989.2L1158.3,991.7L1168.6,993.9L1179.4,996.0L1190.0,998.0L1200.6,1000.1L1211.2,1002.2L1221.0,1004.2L1229.6,1005.9L1237.3,1007.5L1245.0,1009.0L1252.4,1010.4L1259.7,1011.8L1268.0,1013.6L1278.1,1016.0L1289.1,1018.9L1300.0,1022.0L1309.9,1025.4L1319.6,1028.9L1330.0,1032.4L1342.3,1035.6L1355.4,1038.7L1367.0,1041.7L1375.7,1044.5L1382.8,1047.2L1390.0,1050.0L1397.9,1053.0L1405.8,1056.0L1414.0,1058.9L1422.7,1061.5L1431.6,1063.8L1440.0,1066.0L1447.3,1067.9L1454.0,1069.7L1461.0,1071.5L1468.8,1073.6L1477.0,1075.8L1485.0,1078.0L1492.8,1080.0L1500.4,1081.9L1508.0,1084.0L1515.2,1086.5L1522.3,1089.2L1530.0,1092.0L1539.6,1095.3L1549.8,1098.6L1557.0,1101.0" stroke="#ff00ff"/>
<path d="M127.5,974.0L129.7,976.1L132.8,979.0L136.0,982.0L139.1,984.8L142.4,987.6L145.7,990.0L149.1,991.9L152.5,993.6L156.0,995.0L159.5,996.2L163.1,997.2L166.4,998.5L169.4,1000.3L172.1,1002.3L175.0,1004.0L178.0,1005.2L181.0,1006.2L184.3,1007.0L188.0,1007.8L192.0,1008.5L196.0,1009.0L200.0,1009.2L204.0,1009.1L207.7,1009.0L211.0,1008.8L213.9,1008.4L217.0,1008.0L220.1,1007.8L223.3,1007.5L227.0,1006.0L231.7,1002.3L237.0,997.4L242.2,993.0L246.9,990.2L251.4,988.0L256.0,985.0L260.7,980.7L265.3,975.6L270.0,970.0L274.7,963.7L279.4,956.9L284.0,950.0L288.6,942.7L293.1,935.4L297.0,929.0L300.0,924.7L302.5,921.3L305.0,917.0L307.6,910.7L310.3,903.3L313.0,896.0L316.0,888.9L319.0,881.7L322.0,875.0L324.7,869.0L327.3,863.4L330.0,858.0L332.7,853.2L335.4,848.7L338.3,843.0L341.6,835.0L345.0,825.8L348.0,818.0L350.3,812.7L352.0,808.7L353.6,805.0L354.8,801.4L355.8,798.2L356.7,795.0L357.7,791.7L358.5,788.3L359.4,785.0L360.3,781.7L361.3,778.3L362.2,775.0L363.1,771.7L364.0,768.3L364.8,765.0L365.7,761.7L366.6,758.3L367.5,755.0L368.3,751.7L369.2,748.3L370.0,745.0L370.9,741.7L371.6,738.3L372.4,735.0L373.1,731.7L373.9,728.3L374.6,725.0L375.3,721.7L376.0,718.3L376.7,715.0L377.4,711.7L378.0,708.3L378.7,705.0L379.4,701.7L380.1,698.3L380.7,695.0L381.4,691.7L382.0,688.3L382.7,685.0L383.4,681.7L384.2,678.3L384.9,675.0L385.6,671.7L386.3,668.3L387.0,665.0L387.8,661.7L388.5,658.3L389.1,655.0L389.8,651.7L390.5,648.3L391.2,645.0L391.9,641.7L392.5,638.3L393.2,635.0L393.9,631.7L394.5,628.3L395.2,625.0L395.8,621.7L396.5,618.3L397.1,615.0L397.8,611.7L398.4,608.3L399.0,605.0L399.7,601.7L400.3,598.3L400.9,595.0L401.5,591.7L402.1,588.3L402.7,585.0L403.3,581.7L403.9,578.3L404.5,575.0L405.1,571.7L405.7,568.3L406.3,565.0L406.9,561.7L407.4,558.3L408.0,555.0L408.6,551.7L409.3,548.3L409.9,545.0L410.5,541.7L411.2,538.3L411.9,535.0L412.5,531.7L413.2,528.3L413.8,525.0L414.5,521.7L415.1,518.3L415.7,515.0L416.4,511.7L417.0,508.3L417.6,505.0L418.3,501.7L418.9,498.3L419.5,495.0L420.1,491.7L420.8,488.3L421.4,485.0L422.0,481.7L422.6,478.3L423.2,475.0L423.8,471.7L424.4,468.3L425.0,465.0L425.6,461.7L426.2,458.3L426.8,455.0L427.5,451.7L428.1,448.3L428.8,445.0L429.6,441.7L430.3,438.3L431.1,435.0L431.8,431.7L432.6,428.3L433.3,425.0L434.1,421.7L434.8,418.3L435.5,415.0L436.3,411.7L437.0,408.3L437.8,405.0L438.5,401.7L439.2,398.3L440.0,395.0L440.7,391.7L441.4,388.3L442.1,385.0L442.9,381.7L443.6,378.3L444.3,375.0L445.1,371.7L445.8,368.3L446.5,365.0L447.2,361.7L448.0,358.3L448.7,355.0L449.4,351.7L450.1,348.3L450.8,345.0L451.6,341.7L452.3,338.3L453.0,335.0L453.7,331.7L454.4,328.3L455.2,325.0L455.9,321.7L456.6,318.3L457.3,315.0L457.9,313.3L458.4,311.5L459.5,305.0L461.3,290.0L463.7,270.1L466.7,252.0L470.5,237.6L474.8,224.9L478.9,214.0L482.2,205.9L485.2,199.5L488.9,192.0L493.9,181.4L499.6,169.6L504.4,160.0L507.8,153.6L510.4,149.3L512.8,147.0L515.2,147.4L517.4,149.7L520.0,151.7L523.1,152.4L526.6,152.8L530.0,153.0L533.5,153.0L537.0,152.9L540.0,153.3L542.3,154.4L544.1,156.0L546.0,158.0L547.9,160.2L549.8,162.9L552.2,166.7L555.5,172.3L559.4,179.0L563.3,185.6L567.0,191.6L570.7,197.4L574.4,203.3L578.1,208.9L581.9,214.6L585.6,221.1L589.3,229.4L593.0,238.5L596.7,246.7L600.4,252.7L604.1,257.7L607.8,263.3L611.6,270.6L615.4,278.5L618.9,285.6L621.8,290.8L624.5,295.3L627.8,300.8L632.1,308.6L636.9,317.5L641.7,325.8L646.3,332.7L651.0,338.9L655.6,345.3L659.9,352.1L664.3,359.0L669.4,366.1L676.1,373.6L683.6,381.3L690.3,388.3L695.2,394.4L699.3,399.9L704.2,405.0L710.6,409.2L717.8,412.9L725.0,417.5L731.9,423.9L738.9,431.3L745.8,438.3L752.9,444.4L759.9,450.3L766.7,456.4L773.3,463.4L779.6,470.8L784.7,477.0L787.9,481.3L790.0,484.6L792.0,488.0L794.1,491.4L796.2,494.9L799.0,500.0L802.8,507.8L807.3,517.3L812.0,527.0L816.7,535.9L821.7,545.0L827.0,556.0L832.9,570.4L839.0,586.6L845.0,602.0L850.6,615.6L856.0,628.2L861.0,640.0L865.3,650.6L869.2,660.3L873.0,670.0L877.0,680.3L880.9,690.6L884.5,700.0L887.5,707.9L890.2,714.9L893.0,722.0L895.9,729.6L898.8,737.3L902.0,745.0L905.5,752.7L909.2,760.4L913.0,768.0L916.7,775.3L920.5,782.5L924.4,790.0L928.5,798.0L932.7,806.4L937.0,815.0L941.4,824.3L945.8,833.7L950.0,842.0L953.8,848.2L957.3,853.1L961.0,858.0L965.1,863.0L969.3,868.0L973.5,873.0L977.7,878.3L981.9,883.7L986.0,889.0L989.9,894.3L993.6,899.5L997.5,904.0L1001.7,907.5L1006.0,910.4L1010.0,913.0L1013.1,915.1L1016.0,917.0L1020.0,920.0L1025.9,925.0L1033.0,931.1L1040.0,937.0L1046.5,942.1L1053.0,947.1L1060.0,952.0L1068.0,957.0L1076.4,962.0L1084.0,967.0L1090.2,972.4L1095.6,977.9L1100.4,982.3L1104.5,984.9L1108.1,986.4L1112.0,988.0L1116.5,990.3L1121.4,992.7L1127.0,994.8L1133.5,996.4L1140.6,997.7L1148.0,999.0L1155.8,999.9L1163.8,1000.8L1170.9,1002.7L1176.6,1006.8L1181.3,1011.9L1185.0,1015.2L1186.8,1015.2L1187.6,1013.4L1189.6,1012.0L1194.0,1011.5L1199.7,1011.4L1205.3,1012.0L1210.2,1013.6L1215.0,1015.9L1220.0,1018.0L1225.1,1019.6L1230.5,1021.0L1236.6,1023.0L1243.9,1026.1L1252.0,1029.7L1260.1,1032.4L1267.9,1033.3L1275.8,1033.4L1283.6,1034.0L1291.8,1035.9L1300.1,1038.3L1307.1,1040.3L1311.8,1041.3L1315.3,1041.9L1320.0,1043.3L1327.3,1046.1L1335.8,1049.7L1343.5,1052.7L1349.6,1054.5L1354.9,1055.7L1360.0,1057.0L1364.7,1058.7L1369.3,1060.4L1374.8,1062.0L1382.3,1063.0L1390.7,1063.7L1398.3,1065.2L1403.8,1067.8L1408.5,1071.1L1414.0,1074.6L1421.4,1078.4L1429.6,1082.5L1437.5,1085.6L1444.6,1087.0L1451.3,1087.5L1457.8,1088.7L1464.0,1091.7L1470.0,1095.3L1476.6,1098.1L1484.5,1098.9L1493.0,1098.8L1500.1,1099.7L1504.5,1103.0L1507.5,1107.3L1511.1,1110.6L1515.4,1111.5L1520.3,1111.4L1526.8,1112.2L1536.9,1115.2L1548.6,1119.2L1557.0,1122.0" stroke="#a00055"/>
</g>
<!-- INSET -->
<!-- inset frame etc -->
<rect x="868.5" y="19.5" width="661.7" height="488" fill="#fff" stroke="none"/>
<clipPath id="ic"><rect x="868.5" y="19.5" width="661.7" height="487.7"/></clipPath>
<g fill="none" stroke-width="4.6" stroke-linejoin="round" stroke-linecap="round" clip-path="url(#ic)">
<path d="M967.7,507.0L974.1,494.5L983.2,476.5L992.2,458.0L1000.2,439.9L1008.1,421.4L1015.1,404.5L1020.8,390.7L1025.6,378.5L1030.4,366.4L1035.4,353.7L1040.3,340.9L1045.6,328.2L1051.8,314.6L1058.4,301.0L1063.9,290.0L1067.4,283.2L1069.8,279.1L1072.2,275.6L1074.3,273.3L1076.3,271.6L1080.0,266.4L1087.0,254.1L1095.7,238.3L1102.9,225.2L1106.8,218.1L1109.3,213.8L1112.2,208.9L1116.5,201.8L1121.2,194.0L1125.8,187.0L1129.7,181.5L1133.5,176.8L1138.0,171.7L1143.5,165.8L1149.7,159.5L1156.4,153.3L1163.7,147.3L1171.5,141.2L1179.3,135.0L1187.4,128.1L1195.5,121.0L1202.2,115.1L1206.1,111.2L1208.6,108.6L1212.9,106.0L1220.9,103.0L1230.6,100.1L1240.0,98.0L1247.9,96.7L1255.4,96.1L1263.3,96.8L1271.5,99.1L1280.2,102.6L1290.0,106.9L1301.7,111.4L1314.6,116.7L1327.5,123.8L1340.0,134.5L1352.5,147.0L1365.0,157.5L1377.5,163.5L1390.0,167.4L1402.5,172.5L1415.0,180.3L1427.5,189.3L1440.0,198.8L1452.8,208.7L1465.7,218.9L1477.5,228.8L1487.7,238.1L1496.9,246.9L1505.6,255.0L1514.9,262.6L1523.8,269.3L1530.0,274.0" stroke="#000000"/>
<path d="M955.5,507.0L963.0,490.2L973.6,466.3L984.5,442.7L994.9,421.5L1005.4,400.7L1015.1,381.6L1023.7,364.5L1031.5,349.0L1038.0,335.8L1042.5,325.5L1045.6,317.4L1048.9,310.0L1053.1,302.7L1057.4,296.0L1060.9,290.0L1062.5,285.5L1063.3,281.7L1065.6,275.6L1070.7,265.5L1077.4,253.1L1084.0,241.0L1090.2,230.1L1096.3,219.5L1102.2,208.9L1107.9,197.6L1113.4,186.2L1118.2,177.0L1122.0,171.2L1125.0,167.6L1128.0,164.0L1130.6,160.0L1133.1,156.1L1136.8,152.0L1142.4,147.4L1149.2,142.7L1156.4,138.1L1163.8,133.9L1171.5,129.9L1179.3,125.8L1187.4,121.1L1195.5,116.3L1202.2,112.1L1206.1,109.0L1208.6,106.5L1212.9,104.4L1220.9,102.5L1230.6,101.0L1240.0,100.0L1247.9,99.4L1255.4,99.2L1263.3,99.9L1271.5,101.4L1280.2,103.7L1290.0,106.9L1301.7,110.7L1314.6,115.5L1327.5,121.9L1340.0,131.1L1352.5,141.9L1365.0,152.0L1377.5,159.9L1390.0,167.0L1402.5,175.0L1415.0,184.9L1427.5,195.7L1440.0,206.3L1452.8,216.5L1465.7,226.5L1477.5,236.3L1487.7,246.0L1496.9,255.5L1505.6,264.4L1514.9,273.2L1523.8,281.3L1530.0,287.0" stroke="#ff0000"/>
<path d="M942.5,507.0L949.3,490.2L959.1,466.3L969.3,442.7L979.5,421.5L990.1,400.7L999.8,381.6L1008.4,364.5L1016.2,349.0L1022.7,335.8L1027.5,325.5L1031.1,317.4L1034.5,310.0L1038.0,302.7L1041.3,296.0L1044.1,290.0L1045.9,285.6L1047.3,281.8L1050.0,275.6L1054.8,265.1L1060.9,252.3L1067.0,240.0L1072.8,229.0L1078.7,218.5L1084.4,208.9L1089.7,200.6L1094.9,193.1L1100.0,186.0L1105.0,179.3L1110.0,173.0L1115.6,166.0L1122.2,157.3L1129.4,147.9L1136.5,140.0L1143.0,134.9L1149.3,131.4L1156.0,128.0L1163.5,124.1L1171.4,120.3L1179.3,116.7L1187.2,113.6L1195.1,110.7L1202.2,107.5L1207.3,103.4L1211.6,99.1L1217.5,96.0L1226.5,94.5L1237.3,94.3L1248.0,95.3L1258.9,98.2L1269.8,102.3L1278.6,106.0L1282.9,107.8L1285.0,109.2L1290.0,112.5L1300.6,119.2L1314.0,127.8L1327.5,136.9L1340.0,146.3L1352.5,156.2L1365.0,165.0L1377.5,171.7L1390.0,177.3L1402.5,183.8L1415.0,191.8L1427.5,200.7L1440.0,210.0L1452.8,219.7L1465.7,229.9L1477.5,240.0L1487.7,250.2L1496.9,260.4L1505.6,270.0L1514.9,279.3L1523.8,288.0L1530.0,294.0" stroke="#00ff00"/>
<path d="M934.1,507.0L941.1,487.7L951.2,460.4L961.6,435.1L971.9,415.6L982.5,398.2L992.2,381.6L1000.8,365.0L1008.6,349.3L1015.1,335.8L1019.8,325.5L1023.2,317.4L1026.5,310.0L1030.1,302.7L1033.5,296.0L1036.5,290.0L1038.2,285.6L1039.4,281.8L1042.2,275.6L1047.8,265.0L1055.0,252.1L1061.7,239.7L1067.0,229.1L1071.8,219.0L1076.7,208.9L1082.0,197.9L1087.3,186.9L1092.0,178.0L1095.8,172.4L1099.0,168.9L1102.2,166.0L1105.0,163.7L1107.7,161.9L1112.0,159.0L1119.7,153.8L1129.0,147.5L1136.5,142.0L1140.2,138.2L1142.1,135.2L1144.4,132.0L1148.1,128.1L1152.2,123.9L1156.4,119.7L1160.1,115.4L1163.8,111.1L1168.6,107.5L1175.1,104.7L1182.6,102.6L1190.0,101.0L1196.1,100.1L1202.0,99.8L1209.9,99.9L1221.5,100.4L1235.2,101.4L1248.0,103.0L1259.5,105.8L1270.1,109.2L1278.6,112.1L1282.9,112.9L1285.0,113.2L1290.0,116.3L1300.6,124.6L1314.0,135.8L1327.5,146.3L1340.0,154.7L1352.5,162.4L1365.0,170.6L1377.5,179.5L1390.0,188.8L1402.5,198.8L1415.0,209.8L1427.5,221.3L1440.0,232.5L1452.8,242.9L1465.7,252.9L1477.5,262.5L1487.7,271.7L1496.9,280.5L1505.6,288.8L1514.9,297.0L1523.8,304.7L1530.0,310.0" stroke="#0000ff"/>
<path d="M925.0,507.0L929.2,493.9L935.2,475.3L941.5,458.0L947.5,444.5L953.6,432.3L960.0,420.0L966.6,407.3L973.4,394.7L980.0,382.0L986.4,368.8L992.5,355.6L998.0,344.0L1002.4,335.5L1006.2,328.7L1010.0,321.0L1014.1,311.0L1018.2,300.0L1022.5,290.0L1026.9,282.0L1031.4,275.0L1036.0,267.0L1040.9,257.1L1045.9,246.3L1051.0,236.0L1056.3,226.4L1061.6,217.2L1066.7,208.9L1071.1,202.2L1075.3,196.5L1080.0,190.0L1085.8,181.4L1092.1,172.1L1097.8,164.4L1102.0,160.1L1105.7,157.4L1110.6,153.3L1117.8,146.0L1126.2,137.3L1134.4,129.0L1141.5,121.8L1148.5,115.0L1156.4,109.0L1166.1,103.5L1176.7,98.6L1187.0,95.3L1196.2,94.0L1205.0,94.2L1214.5,95.3L1225.3,96.9L1236.8,99.4L1248.0,103.0L1259.1,108.7L1269.9,115.6L1278.6,121.3L1282.9,124.3L1285.0,126.2L1290.0,129.4L1300.6,135.1L1314.0,142.2L1327.5,150.0L1340.0,158.0L1352.5,166.6L1365.0,176.3L1377.5,187.4L1390.0,199.5L1402.5,211.9L1415.0,224.3L1427.5,237.0L1440.0,249.4L1452.8,262.0L1465.7,274.3L1477.5,285.0L1487.7,293.0L1496.9,299.3L1505.6,305.6L1514.9,313.2L1523.8,320.7L1530.0,326.0" stroke="#ff8000"/>
<path d="M918.9,507.0L923.2,493.9L929.4,475.3L935.7,458.0L941.6,444.5L947.7,432.1L954.0,419.8L960.5,407.1L967.2,394.3L973.8,381.6L980.3,368.3L986.6,355.1L992.2,343.5L996.7,335.0L1000.6,328.2L1004.4,320.5L1008.4,310.6L1012.5,299.9L1016.6,290.0L1020.8,282.2L1025.1,275.2L1029.7,267.0L1034.9,256.2L1040.4,244.3L1045.7,233.4L1050.5,224.6L1055.0,216.9L1060.0,208.9L1065.8,199.8L1072.0,190.5L1077.7,182.2L1082.3,175.6L1086.3,170.0L1091.1,164.4L1097.3,158.6L1104.1,152.8L1110.6,147.2L1116.3,141.8L1121.6,136.5L1126.7,131.1L1131.6,124.9L1136.3,118.6L1141.1,113.6L1146.1,110.9L1151.3,109.4L1156.4,107.5L1161.5,104.1L1166.6,100.3L1171.7,97.5L1176.5,96.4L1181.3,96.4L1187.0,96.8L1194.1,97.3L1202.0,98.3L1209.9,99.9L1217.5,102.6L1225.2,106.0L1232.8,109.0L1240.4,111.2L1248.1,113.1L1255.7,115.1L1263.8,117.7L1271.8,120.5L1278.6,122.8L1282.6,123.4L1285.4,123.4L1290.0,126.0L1298.5,133.1L1308.8,142.8L1318.1,151.9L1324.8,159.2L1330.6,165.8L1336.9,172.5L1344.7,179.1L1353.1,185.7L1361.3,193.1L1368.7,201.7L1376.0,211.2L1383.8,221.3L1392.8,232.4L1402.3,244.1L1411.9,255.0L1420.9,264.6L1429.9,273.4L1440.0,281.3L1452.2,287.9L1465.3,293.6L1477.5,300.0L1487.7,307.5L1496.9,315.7L1505.6,324.4L1514.9,335.0L1523.8,346.1L1530.0,354.0" stroke="#ff00ff"/>
<path d="M899.8,507.0L902.4,499.4L906.2,488.6L910.0,478.0L913.2,469.1L916.3,460.3L920.4,450.4L925.9,438.8L932.2,426.1L938.7,412.2L945.3,396.4L952.0,379.3L958.6,363.3L964.9,349.2L971.1,336.0L976.9,323.6L982.0,312.7L986.7,302.4L992.2,290.0L999.3,272.5L1007.0,252.9L1013.8,236.5L1018.5,226.5L1022.1,219.7L1026.5,212.6L1032.4,203.5L1039.1,194.1L1045.7,185.4L1052.1,177.7L1058.4,170.6L1064.4,164.4L1069.6,159.6L1074.4,155.7L1080.0,151.0L1087.3,144.8L1095.2,137.8L1102.2,131.1L1106.9,125.1L1110.5,119.3L1115.1,113.6L1121.8,107.2L1129.4,100.9L1136.5,96.8L1142.4,96.4L1147.8,98.1L1153.3,99.9L1158.5,101.0L1163.9,102.0L1171.7,102.9L1184.3,103.3L1199.3,103.5L1211.4,104.4L1217.5,106.3L1220.8,108.9L1225.1,112.1L1232.4,116.3L1240.7,121.1L1248.1,125.8L1253.7,130.0L1258.5,134.1L1263.3,138.1L1268.5,142.3L1273.8,146.5L1278.6,150.3L1282.7,153.7L1286.4,156.7L1290.0,159.4L1293.1,161.6L1296.1,163.6L1300.0,166.0L1305.4,168.8L1311.7,172.1L1318.1,176.3L1324.0,181.4L1329.9,187.5L1336.9,195.0L1345.2,204.9L1354.6,216.3L1365.0,226.9L1376.8,235.4L1389.7,243.0L1402.5,251.3L1415.0,261.0L1427.5,271.4L1440.0,281.3L1452.8,290.7L1465.7,299.6L1477.5,307.5L1487.7,313.7L1496.9,318.9L1505.6,324.4L1514.9,331.5L1523.8,338.8L1530.0,344.0" stroke="#a00055"/>
</g>
<g stroke="#000" stroke-width="4" fill="none">
<line x1="868.5" y1="19.5" x2="868.5" y2="509"/>
<line x1="1530.2" y1="19.5" x2="1530.2" y2="509"/>
<line x1="866.5" y1="507.2" x2="1532.2" y2="507.2"/>
<line x1="998.9" y1="507" x2="998.9" y2="497.5"/>
<line x1="1251.8" y1="507" x2="1251.8" y2="497.5"/>
<line x1="1504.7" y1="507" x2="1504.7" y2="497.5"/>
<line x1="1125.3" y1="507" x2="1125.3" y2="502"/>
<line x1="1378.2" y1="507" x2="1378.2" y2="502"/>
</g>
<g stroke="#000" stroke-width="4" stroke-dasharray="15.5 13" fill="none">
<line x1="1137" y1="19.8" x2="1137" y2="506"/>
<line x1="1249.8" y1="17.4" x2="1249.8" y2="506"/>
</g>
<line x1="1103.4" y1="55.4" x2="1275" y2="55.4" stroke="#000" stroke-width="3.5"/>
<polygon points="1270.5,46.6 1297,55.4 1270.5,64.4" fill="#000"/>
<g font-size="60" fill="#000">
<text transform="translate(970.1,81.5) scale(0.861,1)">13.1</text>
<text transform="translate(1309.8,85.3) scale(0.917,1)">14.0</text>
</g>
<g font-size="58" fill="#000">
<text transform="translate(998.7,560) scale(0.93,1)" text-anchor="middle">12</text>
<text transform="translate(1250.5,560) scale(0.93,1)" text-anchor="middle">14</text>
<text transform="translate(1504.5,560) scale(0.92,1)" text-anchor="middle">16</text>
</g>


<!-- main arrow -->
<line x1="681.7" y1="238.6" x2="795" y2="238.6" stroke="#000" stroke-width="6"/>
<polygon points="790.5,228.2 826,238.6 790.5,249" fill="#000"/>
<!-- dots -->
<circle cx="782.2" cy="501.4" r="17" fill="#000"/>
<circle cx="1084.4" cy="968.3" r="17.5" fill="#000"/>
<!-- red labels -->
<g font-size="70" fill="#ff0000">
<text transform="translate(654.5,587) scale(0.965,1)">18.5</text>
<text x="1025" y="1067">25.0</text>
</g>
<!-- legend -->
<g stroke-width="6" stroke-linecap="round">
<line x1="419.4" y1="677.2" x2="545.9" y2="677.2" stroke="#000000"/>
<line x1="419.4" y1="751.4" x2="545.9" y2="751.4" stroke="#ff0000"/>
<line x1="419.4" y1="825.5" x2="545.9" y2="825.5" stroke="#00ff00"/>
<line x1="419.4" y1="899.6" x2="545.9" y2="899.6" stroke="#0000ff"/>
<line x1="419.4" y1="974.5" x2="545.9" y2="974.5" stroke="#ff8000"/>
<line x1="419.4" y1="1048.9" x2="545.9" y2="1048.9" stroke="#ff00ff"/>
<line x1="419.4" y1="1122.6" x2="545.9" y2="1122.6" stroke="#a00055"/>
</g>
<g font-size="60" fill="#000">
<text transform="translate(559.6,696) scale(0.951,1)">KC26−KS0</text>
<text transform="translate(559.6,770.2) scale(0.951,1)">KC20−KS2</text>
<text transform="translate(559.6,844.4) scale(0.951,1)">KC15−KS3</text>
<text transform="translate(559.6,918.6) scale(0.951,1)">KC10−KS5</text>
<text transform="translate(559.6,992.8) scale(0.951,1)">KC5−KS7</text>
<text transform="translate(559.6,1067) scale(0.951,1)">KC0−KS10</text>
<text transform="translate(559.6,1141.2) scale(0.951,1)">H<tspan font-size="40" dy="13">2</tspan><tspan dy="-13">O</tspan></text>
</g>

<!-- main frame -->
<rect x="127.5" y="19.5" width="1430" height="1229" fill="none" stroke="#000" stroke-width="5.5"/>
<g stroke="#000" stroke-width="5">
<line x1="365.3" y1="1248" x2="365.3" y2="1223"/>
<line x1="603.7" y1="1248" x2="603.7" y2="1223"/>
<line x1="842" y1="1248" x2="842" y2="1223"/>
<line x1="1080.3" y1="1248" x2="1080.3" y2="1223"/>
<line x1="1318.7" y1="1248" x2="1318.7" y2="1223"/>
<line x1="246.2" y1="1248" x2="246.2" y2="1235"/>
<line x1="484.5" y1="1248" x2="484.5" y2="1235"/>
<line x1="722.8" y1="1248" x2="722.8" y2="1235"/>
<line x1="961.2" y1="1248" x2="961.2" y2="1235"/>
<line x1="1199.5" y1="1248" x2="1199.5" y2="1235"/>
<line x1="1437.8" y1="1248" x2="1437.8" y2="1235"/>
</g>
<g font-size="64" text-anchor="middle" fill="#000">
<text x="125" y="1321">5</text>
<text x="363.5" y="1321">10</text>
<text x="603" y="1321">15</text>
<text x="842" y="1321">20</text>
<text x="1078" y="1321">25</text>
<text x="1317" y="1321">30</text>
<text x="1556.5" y="1321">35</text>
</g>
<text x="845" y="1418" font-size="69" font-weight="bold" text-anchor="middle">2θ</text>
<text transform="translate(67.5,644) rotate(-90)" font-size="69" font-weight="bold" text-anchor="middle">Intensity</text>
</svg>
</body></html>
